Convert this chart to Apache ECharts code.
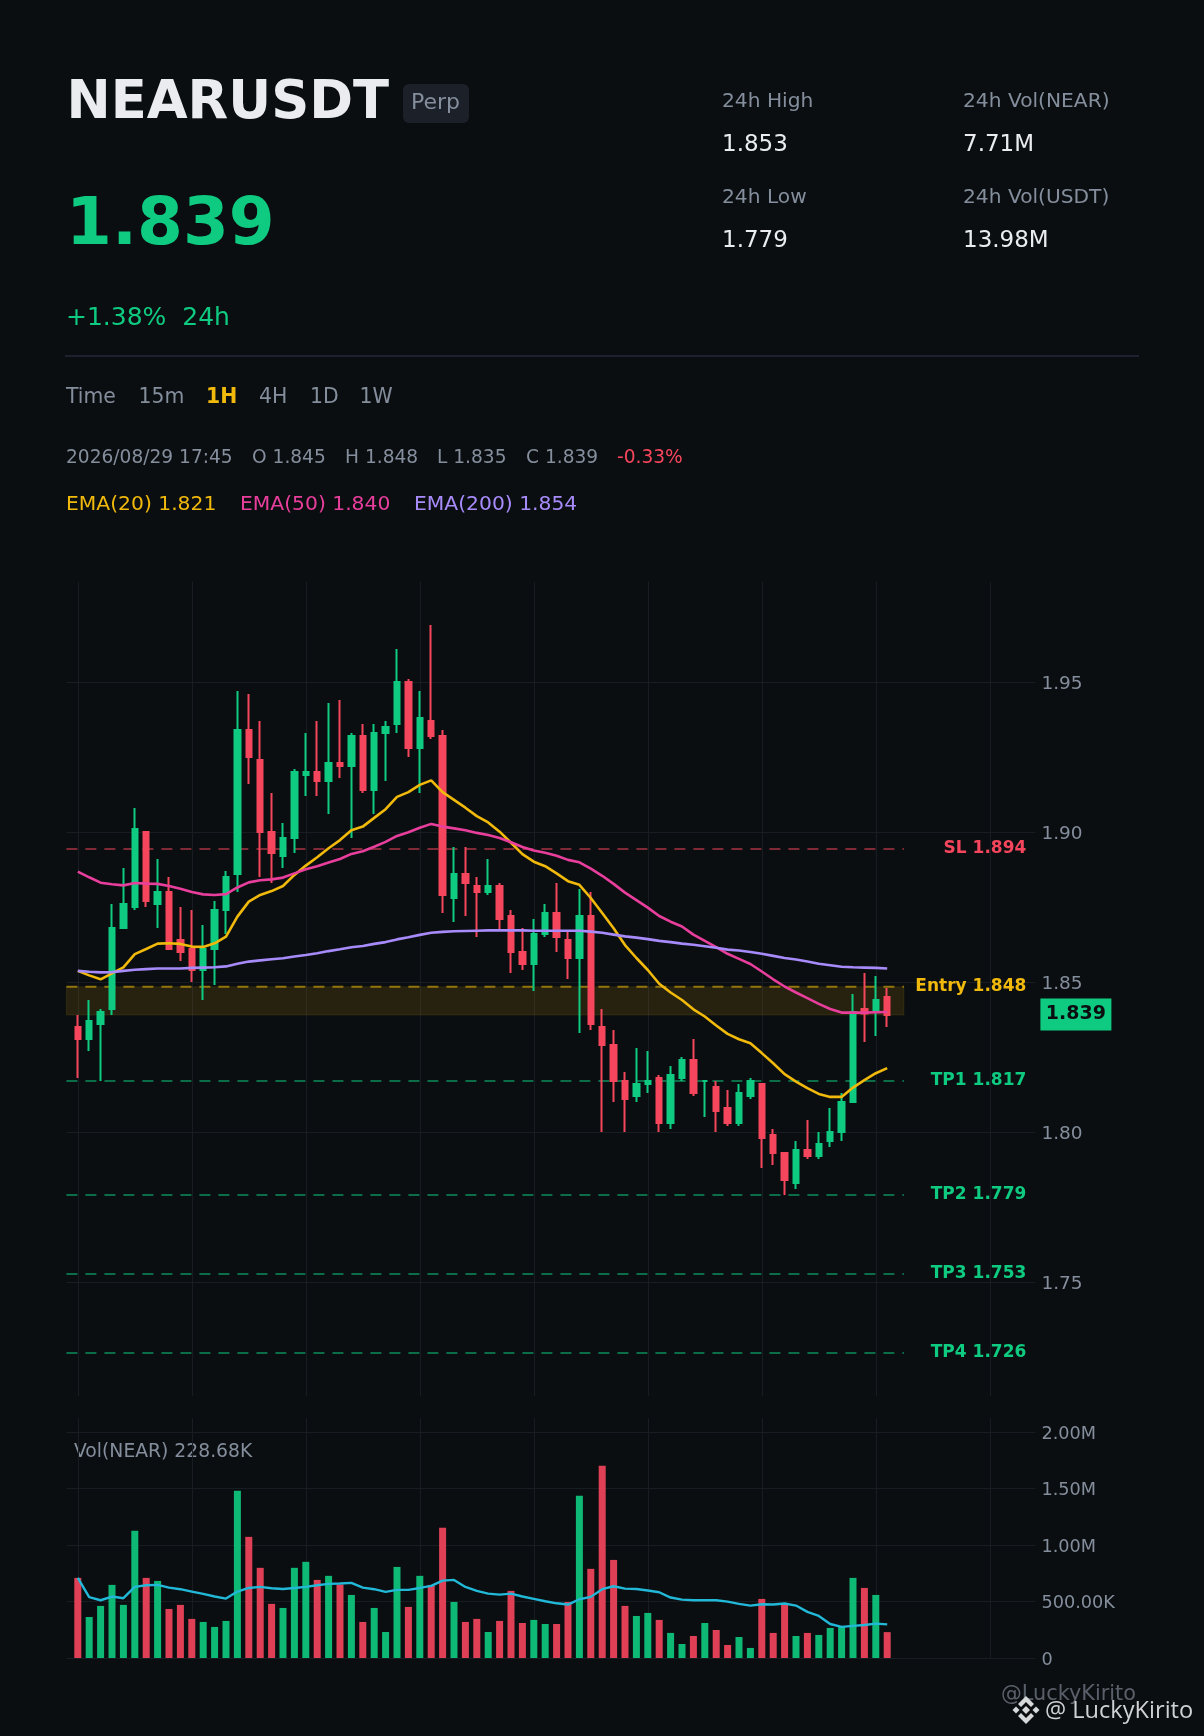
<!DOCTYPE html>
<html><head><meta charset="utf-8">
<style>html,body{margin:0;padding:0;background:#0b0e11}#c{width:1204px;height:1736px}</style>
<script src="https://cdn.jsdelivr.net/npm/echarts@6/dist/echarts.min.js"></script>
</head><body><div id="c"></div>
<script>
// [open, close, low, high]
const candles = [
[1.835,1.831,1.818,1.839],[1.831,1.837,1.827,1.844],[1.836,1.840,1.817,1.841],[1.841,1.868,1.839,1.876],
[1.868,1.876,1.868,1.888],[1.875,1.901,1.874,1.908],[1.900,1.877,1.875,1.900],[1.876,1.880,1.868,1.891],
[1.880,1.861,1.861,1.885],[1.864,1.860,1.857,1.875],[1.861,1.854,1.850,1.874],[1.854,1.861,1.844,1.869],
[1.861,1.874,1.849,1.877],[1.874,1.885,1.866,1.887],[1.886,1.934,1.880,1.947],[1.934,1.925,1.916,1.946],
[1.924,1.900,1.885,1.937],[1.900,1.893,1.883,1.913],[1.892,1.898,1.888,1.903],[1.898,1.920,1.893,1.921],
[1.919,1.920,1.912,1.933],[1.920,1.917,1.912,1.937],[1.917,1.923,1.906,1.943],[1.923,1.922,1.918,1.944],
[1.922,1.932,1.898,1.933],[1.932,1.914,1.913,1.936],[1.914,1.933,1.906,1.936],[1.933,1.935,1.917,1.937],
[1.936,1.950,1.933,1.961],[1.950,1.928,1.925,1.951],[1.928,1.938,1.913,1.947],[1.937,1.932,1.931,1.969],
[1.932,1.879,1.873,1.934],[1.878,1.886,1.870,1.895],[1.886,1.883,1.872,1.895],[1.882,1.880,1.865,1.885],
[1.880,1.882,1.879,1.891],[1.882,1.871,1.867,1.883],[1.872,1.860,1.853,1.874],[1.860,1.856,1.854,1.868],
[1.856,1.866,1.847,1.871],[1.866,1.873,1.865,1.876],[1.873,1.865,1.860,1.883],[1.864,1.858,1.851,1.867],
[1.858,1.872,1.833,1.881],[1.872,1.836,1.834,1.880],[1.835,1.829,1.800,1.841],[1.829,1.817,1.810,1.834],
[1.817,1.811,1.800,1.820],[1.812,1.816,1.810,1.828],[1.816,1.817,1.813,1.827],[1.818,1.803,1.800,1.819],
[1.803,1.819,1.801,1.822],[1.818,1.824,1.817,1.825],[1.824,1.813,1.812,1.831],[1.817,1.817,1.805,1.817],
[1.815,1.807,1.800,1.817],[1.808,1.803,1.802,1.814],[1.803,1.813,1.802,1.816],[1.812,1.817,1.811,1.818],
[1.816,1.798,1.788,1.816],[1.799,1.793,1.789,1.801],[1.793,1.784,1.779,1.793],[1.783,1.794,1.781,1.797],
[1.794,1.792,1.791,1.804],[1.792,1.796,1.791,1.800],[1.797,1.800,1.795,1.808],[1.800,1.810,1.797,1.813],
[1.810,1.840,1.810,1.846],[1.841,1.8395,1.830,1.853],[1.840,1.844,1.832,1.852],[1.845,1.839,1.835,1.848]
];
const ema20 = [1.8537,1.8522,1.8509,1.8529,1.8549,1.8593,1.8610,1.8628,1.8629,1.8627,1.8618,1.8617,1.8629,1.8651,1.8718,1.8768,1.8790,1.8803,1.8820,1.8857,1.8888,1.8916,1.8946,1.8973,1.9006,1.9018,1.9047,1.9076,1.9117,1.9133,1.9157,1.9172,1.9133,1.9107,1.9081,1.9053,1.9032,1.9001,1.8964,1.8926,1.8901,1.8886,1.8862,1.8836,1.8824,1.8780,1.8730,1.8679,1.8623,1.8580,1.8540,1.8494,1.8465,1.8440,1.8409,1.8385,1.8355,1.8327,1.8309,1.8296,1.8263,1.8229,1.8193,1.8168,1.8146,1.8127,1.8117,1.8117,1.8148,1.8173,1.8196,1.8213];
const ema50 = [1.8868,1.8849,1.8831,1.8826,1.8822,1.8830,1.8828,1.8827,1.8820,1.8811,1.8800,1.8792,1.8790,1.8793,1.8815,1.8832,1.8839,1.8842,1.8848,1.8862,1.8876,1.8886,1.8898,1.8910,1.8927,1.8936,1.8951,1.8967,1.8987,1.8999,1.9014,1.9027,1.9018,1.9012,1.9006,1.8997,1.8990,1.8980,1.8966,1.8950,1.8938,1.8931,1.8921,1.8907,1.8899,1.8878,1.8854,1.8827,1.8798,1.8773,1.8748,1.8720,1.8701,1.8685,1.8658,1.8637,1.8616,1.8594,1.8577,1.8560,1.8535,1.8509,1.8485,1.8465,1.8446,1.8427,1.8410,1.8398,1.8398,1.8398,1.8399,1.8400];
const ema200 = [1.8537,1.8534,1.8532,1.8533,1.8537,1.8541,1.8543,1.8545,1.8545,1.8545,1.8547,1.8548,1.8549,1.8552,1.8561,1.8568,1.8572,1.8576,1.8579,1.8585,1.8590,1.8596,1.8603,1.8609,1.8616,1.8620,1.8627,1.8633,1.8642,1.8649,1.8657,1.8664,1.8667,1.8669,1.8670,1.8671,1.8672,1.8672,1.8672,1.8672,1.8671,1.8671,1.8671,1.8671,1.8671,1.8668,1.8664,1.8658,1.8652,1.8648,1.8643,1.8637,1.8633,1.8628,1.8624,1.8619,1.8614,1.8608,1.8605,1.8600,1.8594,1.8587,1.8580,1.8575,1.8568,1.8561,1.8556,1.8551,1.8549,1.8548,1.8547,1.8545];
const volumes = [0.709,0.363,0.461,0.647,0.470,1.126,0.709,0.682,0.434,0.470,0.346,0.319,0.275,0.328,1.480,1.072,0.798,0.479,0.443,0.798,0.851,0.691,0.727,0.650,0.558,0.319,0.443,0.230,0.806,0.452,0.727,0.647,1.152,0.496,0.319,0.346,0.230,0.328,0.594,0.310,0.337,0.301,0.301,0.496,1.436,0.789,1.702,0.868,0.461,0.372,0.399,0.337,0.222,0.124,0.195,0.310,0.248,0.115,0.186,0.089,0.523,0.222,0.487,0.195,0.222,0.204,0.266,0.275,0.709,0.620,0.558,0.229];
const volMA = [0.709,0.538,0.511,0.544,0.529,0.629,0.644,0.647,0.623,0.609,0.588,0.567,0.544,0.526,0.588,0.620,0.629,0.617,0.611,0.620,0.629,0.644,0.656,0.659,0.665,0.623,0.609,0.585,0.603,0.603,0.620,0.638,0.685,0.691,0.629,0.594,0.570,0.561,0.570,0.544,0.523,0.502,0.484,0.473,0.520,0.541,0.609,0.635,0.614,0.611,0.597,0.582,0.535,0.517,0.511,0.511,0.511,0.499,0.479,0.464,0.476,0.473,0.482,0.464,0.408,0.372,0.301,0.275,0.284,0.292,0.304,0.298];
const priceTicks = [1.75,1.80,1.85,1.90,1.95];
const volTicks = [0,500000,1000000,1500000,2000000];
const levelNames = ['SL','Entry','TP1','TP2','TP3','TP4'];
const levelValues = [1.8943,1.8484,1.817,1.779,1.7527,1.7263];
const zoneRange = [1.8484,1.839];
const lastPrice = 1.839;

const UP='#0ecb81',DOWN='#f6465d',GOLD='#f0b90b',PINK='#e83e9c',VIOLET='#a78bfa',CYAN='#22b8d8',GREY='#848e9c',TXT='#eaecef',GRID='#181c23';
const FONT='"DejaVu Sans"';
const levelColors=[DOWN,GOLD,UP,UP,UP,UP];
const levelLine=['rgba(246,70,93,.5)','rgba(240,185,11,.55)','rgba(14,203,129,.5)','rgba(14,203,129,.5)','rgba(14,203,129,.5)','rgba(14,203,129,.5)'];

const n=candles.length, LEAD=1, SLOTS=86, TRAIL=SLOTS-LEAD-n;
const pad=a=>[...Array(LEAD).fill('-'),...a,...Array(TRAIL).fill('-')];
const cats=Array.from({length:SLOTS},(_,k)=>String(k));
const LEVEL_END=72.47, LABEL_X=83.25;

function T(text,x,y,size,fill,bold,extra){return {type:'text',silent:true,x,y,style:Object.assign({text,fill,font:(bold?'bold ':'')+size+'px '+FONT,verticalAlign:'middle',align:'left'},extra||{})};}
const graphics=[
 T('NEARUSDT',66.5,104.5,52.8,TXT,true),
 {type:'rect',silent:true,shape:{x:403,y:84,width:66,height:39,r:6},style:{fill:'#1c2028'}},
 T('Perp',411,103,22,GREY),
 T('1.839',66,227,66,UP,true),
 T('+1.38%  24h',66,318,25,UP),
 {type:'rect',silent:true,shape:{x:65,y:355,width:1074,height:2},style:{fill:'#1e2230'}},
 T('Time',66,398,20.4,GREY),T('15m',138.5,398,20.4,GREY),T('1H',206,398,20.4,GOLD,true),T('4H',259,398,20.4,GREY),T('1D',310,398,20.4,GREY),T('1W',359.5,398,20.4,GREY),
 T('2026/08/29 17:45',66,458,18.6,GREY),T('O 1.845',252,458,18.6,GREY),T('H 1.848',345,458,18.6,GREY),T('L 1.835',437,458,18.6,GREY),T('C 1.839',526,458,18.6,GREY),T('-0.33%',617,458,18.6,DOWN),
 T('EMA(20) 1.821',66,504.5,20.3,GOLD),T('EMA(50) 1.840',240,504.5,20.3,PINK),T('EMA(200) 1.854',414,504.5,20.3,VIOLET),
 T('24h High',722,102,20.2,GREY),T('24h Vol(NEAR)',963,102,20.2,GREY),T('24h Low',722,198,20.2,GREY),T('24h Vol(USDT)',963,198,20.2,GREY),
 T('1.853',722,145,23,TXT),T('7.71M',963,145,23,TXT),T('1.779',722,241,23,TXT),T('13.98M',963,241,23,TXT),
 T('Vol(NEAR) 228.68K',74,1452,18.75,GREY),
 T('@LuckyKirito',1001,1695,20.8,'#5a606a'),
 T('@ LuckyKirito',1045,1711,23.6,'#cfd1d3',false,{font:'23.6px "Open Sans"'})
];
// logo
const lc=[1026,1710], col='#d6d8da';
const dia=(cx,cy,r)=>({type:'polygon',silent:true,shape:{points:[[cx,cy-r],[cx+r,cy],[cx,cy+r],[cx-r,cy]]},style:{fill:col}});
graphics.push(dia(lc[0],lc[1],4),dia(lc[0]-10,lc[1],3.5),dia(lc[0]+10,lc[1],3.5));
graphics.push({type:'polygon',silent:true,shape:{points:[[lc[0],lc[1]-14],[lc[0]+8,lc[1]-6],[lc[0]+5,lc[1]-3],[lc[0],lc[1]-8],[lc[0]-5,lc[1]-3],[lc[0]-8,lc[1]-6]]},style:{fill:col}});
graphics.push({type:'polygon',silent:true,shape:{points:[[lc[0],lc[1]+14],[lc[0]+8,lc[1]+6],[lc[0]+5,lc[1]+3],[lc[0],lc[1]+8],[lc[0]-5,lc[1]+3],[lc[0]-8,lc[1]+6]]},style:{fill:col}});

const splitX={show:true,interval:(k)=>(k-1)%10===0,lineStyle:{color:GRID,width:1}};
const xCat=(g)=>({type:'category',gridIndex:g,data:cats,boundaryGap:false,axisLine:{show:false},axisTick:{show:false},axisLabel:{show:false},splitLine:splitX});
const levelSeries=levelValues.map((v,k)=>({name:levelNames[k],type:'line',xAxisIndex:1,yAxisIndex:0,z:2,symbol:'none',silent:true,lineStyle:{color:levelLine[k],width:2,type:[11,8]},data:[[-1,v],[LEVEL_END,v]]}));

const option={
 animation:false,backgroundColor:'#0b0e11',
 graphic:graphics,
 grid:[{left:66.4,top:582,width:969,height:814},{left:66.4,top:1418,width:969,height:240}],
 xAxis:[xCat(0),{type:'value',gridIndex:0,min:-1,max:84,show:false,splitLine:{show:false}},xCat(1)],
 yAxis:[
  {type:'value',gridIndex:0,position:'right',min:1.712,max:1.98333,scale:true,axisLine:{show:false},axisTick:{show:false,customValues:priceTicks},
   axisLabel:{customValues:priceTicks,margin:6,color:GREY,fontFamily:FONT,fontSize:18.5,verticalAlign:'top',lineHeight:4,formatter:v=>v.toFixed(2)},splitLine:{show:true,lineStyle:{color:GRID,width:1}}},
  {type:'value',gridIndex:1,position:'right',min:0,max:2124000,axisLine:{show:false},axisTick:{show:false,customValues:volTicks},
   axisLabel:{customValues:volTicks,margin:6,color:GREY,fontFamily:FONT,fontSize:17.7,verticalAlign:'top',lineHeight:4,formatter:v=>v===0?'0':(v<1e6?(v/1e3).toFixed(2)+'K':(v/1e6).toFixed(2)+'M')},splitLine:{show:true,lineStyle:{color:GRID,width:1}}}
 ],
 series:[
  {name:'zone',type:'line',xAxisIndex:1,yAxisIndex:0,z:1,symbol:'none',silent:true,lineStyle:{opacity:0},data:[[-1,zoneRange[0]],[LEVEL_END,zoneRange[0]]],
   markArea:{silent:true,itemStyle:{color:'rgba(240,185,11,.12)',borderColor:'rgba(240,185,11,.1)',borderWidth:1},data:[[{coord:[-1,zoneRange[0]]},{coord:[LEVEL_END,zoneRange[1]]}]]}},
  ...levelSeries,
  {name:'candles',type:'candlestick',xAxisIndex:0,yAxisIndex:0,z:3,barWidth:6,silent:true,
   itemStyle:{color:UP,color0:DOWN,borderColor:UP,borderColor0:DOWN,borderColorDoji:UP,borderWidth:2},
   data:pad(candles.map(c=>c)).map(d=>d==='-'?['-','-','-','-']:d)},
  ...[[ema20,GOLD],[ema50,PINK],[ema200,VIOLET]].map(([a,c])=>({type:'line',xAxisIndex:0,yAxisIndex:0,z:4,symbol:'none',silent:true,lineStyle:{color:c,width:2.6},data:pad(a)})),
  {name:'levels',type:'scatter',xAxisIndex:1,yAxisIndex:0,z:5,symbolSize:1,silent:true,itemStyle:{color:'transparent',opacity:1},
   data:levelValues.map((v,k)=>({value:[LABEL_X,v],label:{show:true,position:[0,0],align:'right',verticalAlign:'middle',color:levelColors[k],fontFamily:FONT,fontWeight:'bold',fontSize:17,formatter:levelNames[k]+' '+v.toFixed(3)}}))},
  {name:'last',type:'scatter',xAxisIndex:1,yAxisIndex:0,z:6,symbolSize:1,silent:true,itemStyle:{color:'transparent',opacity:1},
   data:[{value:[84,lastPrice],label:{show:true,position:[41,0],align:'center',verticalAlign:'middle',backgroundColor:UP,color:'#0b0e11',fontFamily:FONT,fontWeight:'bold',fontSize:19,width:71,height:32,lineHeight:32,padding:0,formatter:lastPrice.toFixed(3)}}]},
  {name:'vol',type:'bar',xAxisIndex:2,yAxisIndex:1,barWidth:7,silent:true,z:2,
   data:pad(volumes.map((v,k)=>({value:v*1e6,itemStyle:{color:candles[k][1]>=candles[k][0]?UP:DOWN,opacity:.9}})))},
  {name:'volMA',type:'line',xAxisIndex:2,yAxisIndex:1,z:3,symbol:'none',silent:true,lineStyle:{color:CYAN,width:2.4},data:pad(volMA.map(v=>v*1e6))}
 ]
};
const chart=echarts.init(document.getElementById('c'),null,{width:1204,height:1736});
chart.setOption(option);
</script></body></html>
